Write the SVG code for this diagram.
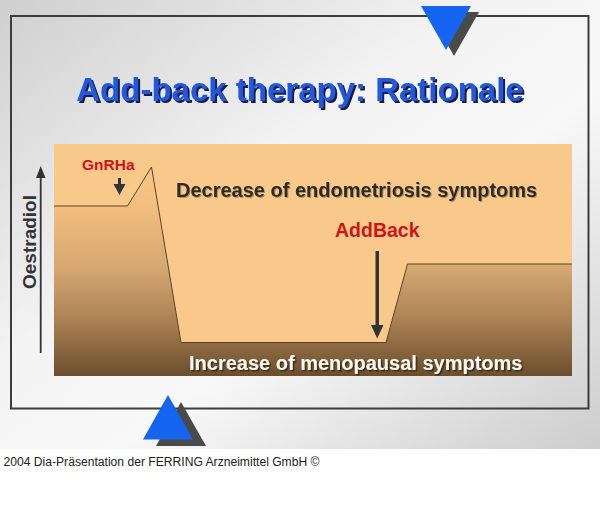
<svg xmlns="http://www.w3.org/2000/svg" width="600" height="511" viewBox="0 0 600 511">
  <defs>
    <linearGradient id="bg" x1="0" y1="0" x2="1" y2="1">
      <stop offset="0" stop-color="#cfcfcf"/>
      <stop offset="0.4" stop-color="#f3f3f3"/>
      <stop offset="0.6" stop-color="#f8f8f8"/>
      <stop offset="1" stop-color="#cdcdcd"/>
    </linearGradient>
    <linearGradient id="curveFill" gradientUnits="userSpaceOnUse" x1="0" y1="165" x2="0" y2="376">
      <stop offset="0" stop-color="#f8c689"/>
      <stop offset="0.2" stop-color="#f2be80"/>
      <stop offset="0.47" stop-color="#d8a972"/>
      <stop offset="0.72" stop-color="#ae8456"/>
      <stop offset="1" stop-color="#6b4e2d"/>
    </linearGradient>
    <filter id="shTitle" x="-5%" y="-20%" width="110%" height="140%">
      <feDropShadow dx="2" dy="2" stdDeviation="0.4" flood-color="#1a1a40" flood-opacity="1"/>
    </filter>
    <filter id="shSoft" x="-5%" y="-20%" width="110%" height="140%">
      <feDropShadow dx="1" dy="1" stdDeviation="0.5" flood-color="#8a6c44" flood-opacity="0.6"/>
    </filter>
    <filter id="shDark" x="-5%" y="-20%" width="110%" height="140%">
      <feDropShadow dx="1.5" dy="1.5" stdDeviation="0.4" flood-color="#3a2a18" flood-opacity="1"/>
    </filter>
  </defs>
  <style>
    .bold { font-family: "Liberation Sans", Arial, sans-serif; font-weight: bold; }
    .dark { fill: #2e2a26; }
    .red { fill: #d01414; }
    .arrow { fill: #333333; }
  </style>

  <!-- slide background -->
  <rect x="0" y="0" width="600" height="449" fill="url(#bg)"/>
  <rect x="11" y="16" width="577.5" height="392.5" fill="none" stroke="#3c3c3c" stroke-width="2"/>

  <!-- top triangle -->
  <g id="top-triangle">
    <polygon points="429,12 479,12 454,56" fill="#4a4a4a"/>
    <polygon points="421,6 471,6 446,50" fill="#1565f0"/>
  </g>

  <!-- title -->
  <g id="title">
    <text x="300" y="101" text-anchor="middle" class="bold" font-size="33" fill="#2158e0" filter="url(#shTitle)">Add-back therapy: Rationale</text>
  </g>

  <!-- chart -->
  <g id="chart">
    <rect x="54" y="144" width="518" height="232" fill="#f9c98c"/>
    <polygon points="54,206 127.5,206 151.5,167 181,342.5 386,342.5 407.5,264 572,264 572,376 54,376" fill="url(#curveFill)"/>
    <polyline points="54,206 127.5,206 151.5,167 181,342.5 386,342.5 407.5,264 572,264" fill="none" stroke="#5c4425" stroke-width="1"/>
  </g>

  <!-- axis -->
  <g id="axis">
    <rect x="39.8" y="176" width="1.8" height="177" class="arrow"/>
    <polygon points="36,178 45.5,178 40.7,166" class="arrow"/>
    <text transform="translate(36,242) rotate(-90)" text-anchor="middle" class="bold" font-size="19" fill="#333333">Oestradiol</text>
  </g>

  <!-- GnRHa label -->
  <g id="gnrha">
    <text x="82" y="170" class="bold red" font-size="15.5">GnRHa</text>
    <rect x="118" y="178" width="3" height="7" class="arrow"/>
    <polygon points="113.5,184 125.5,184 119.5,195" class="arrow"/>
  </g>

  <!-- decrease label -->
  <g id="decrease-label">
    <text x="176" y="197" class="bold dark" font-size="20" filter="url(#shSoft)">Decrease of endometriosis symptoms</text>
  </g>

  <!-- AddBack label -->
  <g id="addback">
    <text x="335" y="237" class="bold red" font-size="19.5">AddBack</text>
    <rect x="375.5" y="251" width="3.5" height="76" class="arrow"/>
    <polygon points="371,325 383.5,325 377.2,338.5" class="arrow"/>
  </g>

  <!-- increase label -->
  <g id="increase-label">
    <text x="189" y="370" class="bold" font-size="20" fill="#fbf6ee" filter="url(#shDark)">Increase of menopausal symptoms</text>
  </g>

  <!-- bottom triangle -->
  <g id="bottom-triangle">
    <polygon points="181,402 156,446 206,446" fill="#4a4a4a"/>
    <polygon points="168,395 143,439.5 193,439.5" fill="#1565f0"/>
  </g>

  <!-- footer -->
  <text x="3.5" y="466" font-family="Liberation Sans, Arial, sans-serif" font-size="12" fill="#222222" textLength="316" lengthAdjust="spacingAndGlyphs">2004 Dia-Präsentation der FERRING Arzneimittel GmbH ©</text>
</svg>
